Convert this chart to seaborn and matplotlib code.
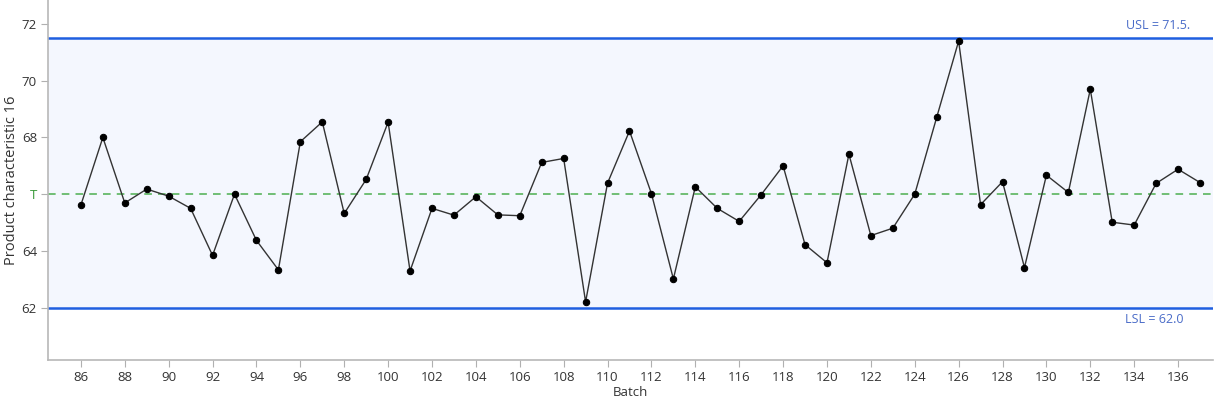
import numpy as np
import pandas as pd
import seaborn as sns
import matplotlib.pyplot as plt

batches = list(range(86, 138))
values = [65.62, 68.00, 65.69, 66.18, 65.93, 65.50, 63.84, 66.00, 64.37, 63.33,
          67.85, 68.55, 65.32, 66.52, 68.54, 63.29, 65.50, 65.26, 65.91, 65.27,
          65.24, 67.12, 67.26, 62.20, 66.39, 68.23, 66.02, 63.01, 66.26, 65.50,
          65.04, 65.98, 67.00, 64.22, 63.58, 67.41, 64.54, 64.80, 66.00, 68.71,
          71.40, 65.63, 66.44, 63.41, 66.67, 66.06, 69.70, 65.01, 64.91, 66.38,
          66.88, 66.41]

usl = 71.5
lsl = 62.0
target = 66.0

x_ticks = list(range(86, 137, 2))
y_ticks = [62, 64, 66, 68, 70, 72]
y_tick_labels = ['62', '64', 'T', '68', '70', '72']

df = pd.DataFrame({'Batch': batches, 'value': values})

sns.set_style('white')
plt.rcParams['font.family'] = ['Open Sans', 'DejaVu Sans']

fig = plt.figure(figsize=(12.15, 4), dpi=100)
ax = fig.add_axes([0.0395, 0.1, 0.959, 0.9])

# spec band and limits
ax.axhspan(lsl, usl, color='#f4f7fe', zorder=0)
ax.axhline(usl, color='#1f5fe0', lw=1.8, zorder=1)
ax.axhline(lsl, color='#1f5fe0', lw=1.8, zorder=1)
ax.axhline(target, color='#4caf50', lw=1.1, ls=(0, (5, 4)), zorder=1)

sns.lineplot(data=df, x='Batch', y='value', ax=ax, color='#333333', lw=1.0,
             marker='o', markersize=4.6, markeredgecolor='black',
             markerfacecolor='black', zorder=3)

ax.set_xlim(84.5, 137.6)
ax.set_ylim(60.15, 72.85)
ax.set_xticks(x_ticks)
ax.set_yticks(y_ticks)
ax.set_yticklabels(y_tick_labels)
for lab in ax.get_yticklabels():
    if lab.get_text() == 'T':
        lab.set_color('#3a9a3a')
    else:
        lab.set_color('#333333')
for lab in ax.get_xticklabels():
    lab.set_color('#333333')

ax.tick_params(axis='both', which='major', length=5, width=0.8, color='#b0b0b0',
               labelsize=9.5, direction='out', pad=3)
ax.tick_params(axis='both', left=True, bottom=True)
ax.set_xlabel('Batch', fontsize=9.5, color='#333333', labelpad=1)
ax.set_ylabel('Product characteristic 16', fontsize=10.5, color='#333333', labelpad=2)

for side in ['top', 'right']:
    ax.spines[side].set_visible(False)
for side in ['left', 'bottom']:
    ax.spines[side].set_color('#b8b8b8')
    ax.spines[side].set_linewidth(1.2)

ax.text(136.55, usl + 0.22, 'USL = 71.5.', color='#4a6cc8', fontsize=9,
        ha='right', va='bottom')
ax.text(136.25, lsl - 0.18, 'LSL = 62.0', color='#4a6cc8', fontsize=9,
        ha='right', va='top')

fig.savefig('out.png', dpi=100)
